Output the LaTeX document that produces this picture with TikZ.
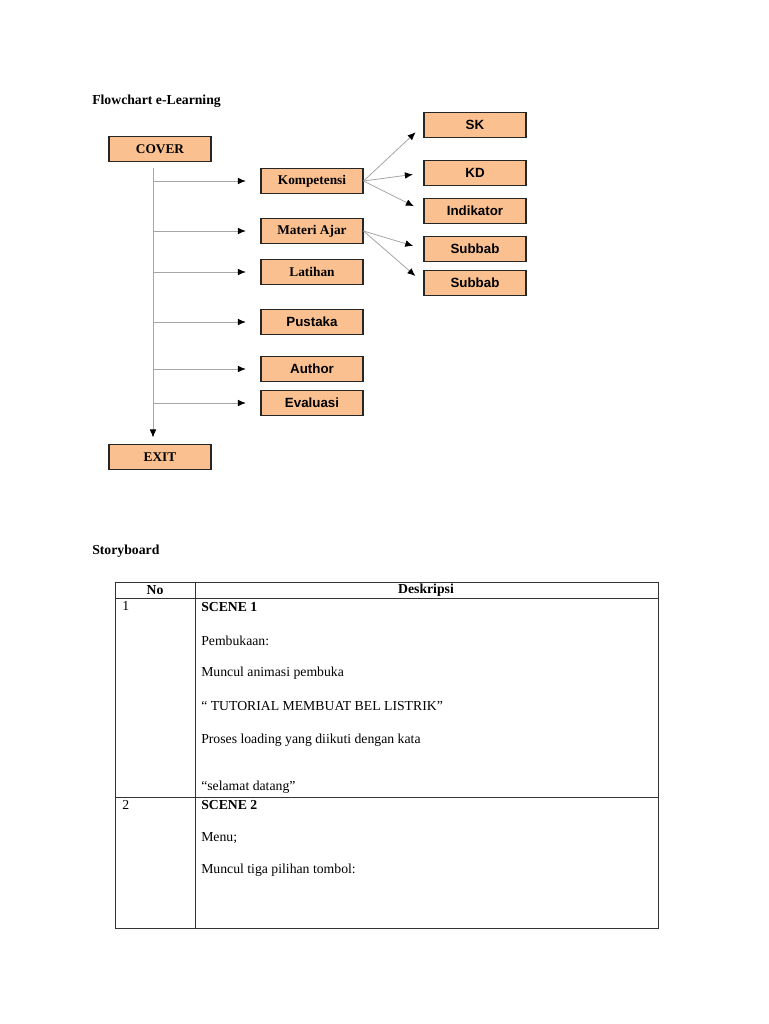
\documentclass[tikz,border=0pt]{standalone}
\usepackage{fontspec}
\setmainfont{Liberation Serif}
\newfontfamily\boxsans{Liberation Sans}
\usetikzlibrary{arrows.meta}
\definecolor{peach}{HTML}{FAC090}
\definecolor{linegray}{HTML}{A6A6A6}
\tikzset{
  menubox/.style={draw=black!85, fill=peach, line width=0.8pt, minimum width=76.5pt,
    minimum height=18.5pt, inner sep=0pt, font=\bfseries\fontsize{10}{12}\selectfont},
  sansbox/.style={menubox, font=\boxsans\bfseries\fontsize{10}{12}\selectfont},
  link/.style={draw=linegray, line width=0.6pt, -{Latex[black,length=6pt,width=5pt]}},
  cell/.style={anchor=west, inner sep=0pt, font=\fontsize{10.3}{12}\selectfont},
  rule/.style={draw=black!80, line width=0.6pt},
}
\begin{document}
\begin{tikzpicture}[x=0.75pt, y=-0.75pt]
          \useasboundingbox[fill=white] (0,0) rectangle (768,1024);

          % flowchart
          \draw (92,101) node[anchor=west, inner sep=0pt, font=\bfseries\fontsize{10.3}{12}\selectfont]{Flowchart e-Learning};
          \node[menubox] (cover) at (160,149) {COVER};
          \node[menubox] (komp) at (312,181) {Kompetensi};
          \node[menubox] (materi) at (312,231) {Materi Ajar};
          \node[menubox] (latihan) at (312,272) {Latihan};
          \node[sansbox] (pustaka) at (312,322) {Pustaka};
          \node[sansbox] (author) at (312,369) {Author};
          \node[sansbox] (evaluasi) at (312,403) {Evaluasi};
          \node[menubox] (exit) at (160,457) {EXIT};
          \node[sansbox] (sk) at (475,125) {SK};
          \node[sansbox] (kd) at (475,173) {KD};
          \node[sansbox] (indikator) at (475,211) {Indikator};
          \node[sansbox] (subbab1) at (475,249) {Subbab};
          \node[sansbox] (subbab2) at (475,283) {Subbab};
          \coordinate (trunk) at (153,168);

          \draw[link, shorten >=5pt] (trunk) -- (exit.north -| trunk);
          \draw[link, shorten >=11pt] (komp.west -| trunk) -- (komp.west);
          \draw[link, shorten >=11pt] (materi.west -| trunk) -- (materi.west);
          \draw[link, shorten >=11pt] (latihan.west -| trunk) -- (latihan.west);
          \draw[link, shorten >=11pt] (pustaka.west -| trunk) -- (pustaka.west);
          \draw[link, shorten >=11pt] (author.west -| trunk) -- (author.west);
          \draw[link, shorten >=11pt] (evaluasi.west -| trunk) -- (evaluasi.west);
          \draw[link, shorten >=8pt] (komp.east) -- (sk.west);
          \draw[link, shorten >=8pt] (komp.east) -- (kd.west);
          \draw[link, shorten >=8pt] (komp.east) -- (indikator.west);
          \draw[link, shorten >=8pt] (materi.east) -- (subbab1.west);
          \draw[link, shorten >=8pt] (materi.east) -- (subbab2.west);

          % storyboard
          \draw (92,551) node[anchor=west, inner sep=0pt, font=\bfseries\fontsize{10.3}{12}\selectfont]{Storyboard};
          \draw[rule] (115,582) rectangle (658,928);
          \draw[rule] (195,582) -- (195,928);
          \draw[rule] (115,598) -- (658,598);
          \draw[rule] (115,797) -- (658,797);
          \draw (155,590) node[font=\bfseries\fontsize{10.3}{12}\selectfont]{No};
          \draw (426,590) node[font=\bfseries\fontsize{10.3}{12}\selectfont]{Deskripsi};
          \draw (122,606) node[cell]{1};
          \draw (201,607) node[cell, font=\bfseries\fontsize{10.3}{12}\selectfont]{SCENE 1};
          \draw (201,641) node[cell]{Pembukaan:};
          \draw (201,673) node[cell]{Muncul animasi pembuka};
          \draw (201,706) node[cell]{“ TUTORIAL MEMBUAT BEL LISTRIK”};
          \draw (201,740) node[cell]{Proses loading yang diikuti dengan kata};
          \draw (201,787) node[cell]{“selamat datang”};
          \draw (122,805) node[cell]{2};
          \draw (201,805) node[cell, font=\bfseries\fontsize{10.3}{12}\selectfont]{SCENE 2};
          \draw (201,838) node[cell]{Menu;};
          \draw (201,870) node[cell]{Muncul tiga pilihan tombol:};
      \end{tikzpicture}
\end{document}
